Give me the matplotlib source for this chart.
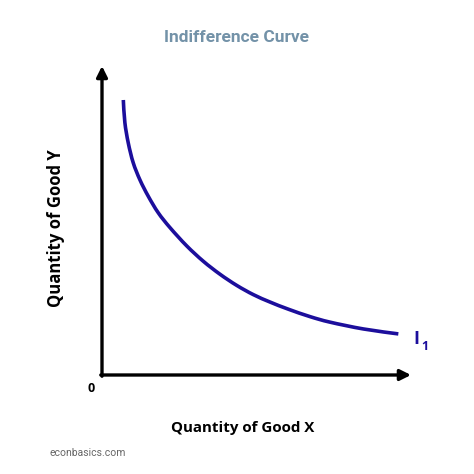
import matplotlib
matplotlib.use("Agg")
import matplotlib.pyplot as plt
from matplotlib.path import Path
from matplotlib.patches import PathPatch

# Indifference curve I1 (quantity of good X, quantity of good Y)
curve_x = [0.69, 0.74, 0.85, 1.01, 1.23, 1.50, 1.82, 2.20, 2.74, 3.28, 3.82, 4.36,
           4.90, 5.44, 6.03, 6.73, 7.38, 8.46, 9.59]
curve_y = [8.90, 8.17, 7.51, 6.87, 6.31, 5.78, 5.25, 4.77, 4.18, 3.68, 3.26, 2.90,
           2.60, 2.36, 2.13, 1.89, 1.71, 1.49, 1.33]
curve_label = "I"
curve_sub = "1"
title = "Indifference Curve"
xlabel = "Quantity of Good X"
ylabel = "Quantity of Good Y"
origin_label = "0"
source = "econbasics.com"

W = H = 474
fig = plt.figure(figsize=(W / 100, H / 100), dpi=100)
fig.patch.set_facecolor("white")
left_px, right_px, bottom_px, top_px = 102, 411, 375, 66
ax = fig.add_axes([left_px / W, 1 - bottom_px / H, (right_px - left_px) / W, (bottom_px - top_px) / H])
ax.set_xlim(0, 10)
ax.set_ylim(0, 10)
ax.axis("off")

curve_color = "#1c0e9c"

# smooth path through the read points (Catmull-Rom rendered as cubic Bezier segments)
pts = list(zip(curve_x, curve_y))
verts = [pts[0]]
codes = [Path.MOVETO]
n = len(pts)
for i in range(n - 1):
    p0 = pts[i - 1] if i > 0 else pts[i]
    p1 = pts[i]
    p2 = pts[i + 1]
    p3 = pts[i + 2] if i + 2 < n else pts[i + 1]
    c1 = (p1[0] + (p2[0] - p0[0]) / 6, p1[1] + (p2[1] - p0[1]) / 6)
    c2 = (p2[0] - (p3[0] - p1[0]) / 6, p2[1] - (p3[1] - p1[1]) / 6)
    verts += [c1, c2, p2]
    codes += [Path.CURVE4, Path.CURVE4, Path.CURVE4]
ax.add_patch(PathPatch(Path(verts, codes), facecolor="none", edgecolor=curve_color,
                       lw=2.6, capstyle="butt", joinstyle="round", clip_on=False))

arrow = dict(arrowstyle="-|>", lw=2.4, color="black", mutation_scale=16, shrinkA=0, shrinkB=0)
ax.annotate("", xy=(10, 0), xytext=(-0.04, 0), arrowprops=arrow, annotation_clip=False)
ax.annotate("", xy=(0, 10), xytext=(0, -0.04), arrowprops=arrow, annotation_clip=False)

ax.text(curve_x[-1] + 0.6, curve_y[-1] - 0.15, curve_label, color=curve_color, fontsize=13,
        fontweight="bold", family="Open Sans", ha="center", va="center")
ax.text(curve_x[-1] + 0.85, curve_y[-1] - 0.4, curve_sub, color=curve_color, fontsize=9,
        fontweight="bold", family="Open Sans", ha="center", va="center")

fig.text(0.5, 1 - 37 / H, title, color="#7392a8", fontsize=12.5, fontweight="bold",
         family="Roboto", ha="center", va="center")
fig.text(242.5 / W, 1 - 432 / H, xlabel, color="black", fontsize=10.9, fontweight="bold",
         family="Open Sans", ha="center", va="baseline")
fig.text(56 / W, 1 - 228 / H, ylabel, color="black", fontsize=12, fontweight="bold",
         family="Open Sans", ha="center", va="center", rotation=90)
fig.text(91 / W, 1 - 388 / H, origin_label, color="black", fontsize=9, fontweight="bold",
         family="Open Sans", ha="center", va="center")
fig.text(50 / W, 1 - 453 / H, source, color="#666666", fontsize=7.5,
         family="Roboto", ha="left", va="center")

fig.savefig("out.png", dpi=100, facecolor="white")
